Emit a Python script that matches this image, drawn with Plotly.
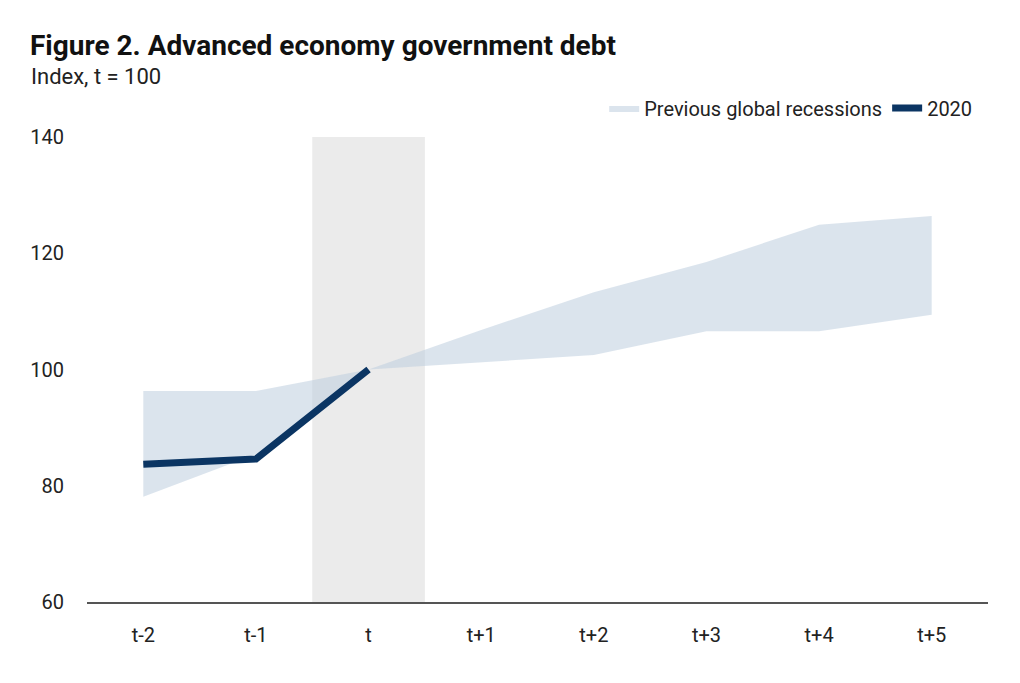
import plotly.graph_objects as go

categories = ["t-2", "t-1", "t", "t+1", "t+2", "t+3", "t+4", "t+5"]
band_upper = [96.3, 96.3, 100, 106.8, 113.3, 118.5, 124.9, 126.4]
band_lower = [78.1, 85.4, 100, 101.3, 102.5, 106.6, 106.6, 109.4]
line_2020_x = ["t-2", "t-1", "t"]
line_2020 = [83.7, 84.6, 100]

fig = go.Figure()

fig.add_trace(go.Scatter(x=categories, y=band_lower, mode="lines", line=dict(width=0),
                         showlegend=False, hoverinfo="skip"))
fig.add_trace(go.Scatter(x=categories, y=band_upper, mode="lines", line=dict(width=0),
                         fill="tonexty", fillcolor="rgba(190,205,222,0.55)",
                         name="Previous global recessions"))
fig.add_trace(go.Scatter(x=line_2020_x, y=line_2020, mode="lines",
                         line=dict(color="#0B3563", width=7), name="2020"))

fig.add_shape(type="rect", xref="x", yref="y", x0=1.5, x1=2.5, y0=60, y1=140,
              fillcolor="#EBEBEB", line=dict(width=0), layer="below")

fig.update_layout(
    width=1020, height=683,
    margin=dict(l=87, r=32, t=137, b=81),
    paper_bgcolor="white", plot_bgcolor="white",
    font=dict(family="Roboto, Arial, sans-serif", size=20, color="#222"),
    title=dict(text="<b>Figure 2. Advanced economy government debt</b>",
               x=30/1020, xanchor="left", y=1-45/683, yanchor="middle",
               font=dict(size=28, color="#111")),
    annotations=[dict(text="Index, t = 100", xref="paper", yref="paper",
                      x=-58/901, y=1+(137-76)/465, xanchor="left", yanchor="middle",
                      showarrow=False, font=dict(size=22, color="#222"))],
    legend=dict(orientation="h", x=0.988, xanchor="right", y=1+(137-108)/465, yanchor="middle",
                font=dict(size=20, color="#222"), bgcolor="rgba(0,0,0,0)",
                itemwidth=30, traceorder="normal"),
    xaxis=dict(type="category", range=[-0.5, 7.5], showgrid=False, zeroline=False,
               showline=True, linecolor="#555", linewidth=2, ticks="",
               tickfont=dict(size=20), ticklabelstandoff=14),
    yaxis=dict(range=[60, 140], dtick=20, showgrid=False, zeroline=False,
               showline=False, ticks="", tickfont=dict(size=20), ticklabelstandoff=22),
    showlegend=True,
)

fig.write_html("out.html")
